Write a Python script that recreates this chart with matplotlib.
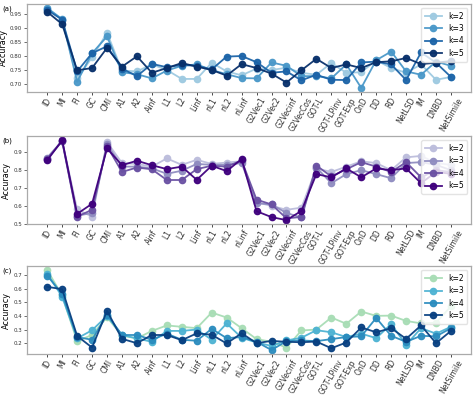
import numpy as np
import matplotlib
matplotlib.use("Agg")
import matplotlib.pyplot as plt

# Methods on the x axis
methods = ["ID", "MI", "FI", "GC", "CMI", "A1", "A2", "Ainf", "L1", "L2", "Linf",
           "nL1", "nL2", "nLinf", "G2Vec1", "G2Vec2", "G2Vecinf", "G2VecCos",
           "GOT-L", "GOT-LPinv", "GOT-Exp", "OnD", "DD", "RD", "NetLSD", "IM",
           "DNBD", "NetSimile"]
k_labels = ["k=2", "k=3", "k=4", "k=5"]

# Panel (a)
acc_a_k2 = [0.970, 0.930, 0.720, 0.795, 0.883, 0.748, 0.745, 0.770, 0.750, 0.718, 0.718, 0.776, 0.745, 0.731,
            0.755, 0.750, 0.758, 0.740, 0.733, 0.775, 0.740, 0.742, 0.785, 0.757, 0.740, 0.770, 0.715, 0.725]
acc_a_k3 = [0.972, 0.932, 0.708, 0.810, 0.870, 0.742, 0.735, 0.720, 0.748, 0.765, 0.770, 0.750, 0.735, 0.721,
            0.720, 0.777, 0.765, 0.728, 0.728, 0.720, 0.770, 0.686, 0.785, 0.816, 0.745, 0.733, 0.780, 0.765]
acc_a_k4 = [0.965, 0.930, 0.745, 0.810, 0.835, 0.755, 0.728, 0.772, 0.760, 0.768, 0.765, 0.752, 0.798, 0.800,
            0.778, 0.740, 0.745, 0.713, 0.733, 0.715, 0.714, 0.777, 0.780, 0.770, 0.714, 0.813, 0.776, 0.725]
acc_a_k5 = [0.958, 0.914, 0.749, 0.757, 0.829, 0.762, 0.799, 0.740, 0.757, 0.775, 0.762, 0.750, 0.730, 0.771,
            0.757, 0.737, 0.705, 0.749, 0.790, 0.757, 0.770, 0.757, 0.778, 0.781, 0.793, 0.771, 0.776, 0.782]

# Panel (b)
acc_b_k2 = [0.860, 0.965, 0.580, 0.540, 0.958, 0.840, 0.835, 0.820, 0.866, 0.830, 0.858, 0.835, 0.843, 0.850,
            0.620, 0.600, 0.578, 0.590, 0.810, 0.790, 0.820, 0.850, 0.840, 0.800, 0.872, 0.880, 0.840, 0.830]
acc_b_k3 = [0.870, 0.965, 0.545, 0.560, 0.945, 0.820, 0.820, 0.810, 0.780, 0.797, 0.835, 0.830, 0.830, 0.840,
            0.615, 0.608, 0.560, 0.535, 0.815, 0.727, 0.778, 0.800, 0.778, 0.755, 0.840, 0.845, 0.830, 0.800]
acc_b_k4 = [0.865, 0.962, 0.540, 0.578, 0.935, 0.790, 0.815, 0.805, 0.745, 0.745, 0.806, 0.825, 0.820, 0.855,
            0.635, 0.608, 0.530, 0.538, 0.826, 0.765, 0.805, 0.845, 0.820, 0.790, 0.845, 0.760, 0.800, 0.790]
acc_b_k5 = [0.855, 0.968, 0.555, 0.612, 0.922, 0.828, 0.853, 0.828, 0.806, 0.820, 0.746, 0.825, 0.795, 0.862,
            0.570, 0.537, 0.520, 0.572, 0.778, 0.760, 0.810, 0.760, 0.810, 0.800, 0.810, 0.727, 0.790, 0.780]

# Panel (c)
acc_c_k2 = [0.735, 0.550, 0.215, 0.260, 0.390, 0.255, 0.235, 0.290, 0.330, 0.320, 0.310, 0.424, 0.388, 0.310,
            0.230, 0.210, 0.168, 0.293, 0.300, 0.388, 0.342, 0.432, 0.400, 0.402, 0.363, 0.345, 0.350, 0.470]
acc_c_k3 = [0.710, 0.540, 0.235, 0.295, 0.400, 0.260, 0.235, 0.210, 0.290, 0.290, 0.300, 0.225, 0.345, 0.240,
            0.205, 0.180, 0.220, 0.240, 0.295, 0.280, 0.245, 0.270, 0.237, 0.340, 0.188, 0.310, 0.270, 0.320]
acc_c_k4 = [0.695, 0.560, 0.245, 0.225, 0.410, 0.260, 0.260, 0.225, 0.270, 0.225, 0.218, 0.305, 0.237, 0.245,
            0.210, 0.150, 0.215, 0.220, 0.215, 0.230, 0.245, 0.250, 0.385, 0.254, 0.210, 0.254, 0.250, 0.310]
acc_c_k5 = [0.613, 0.595, 0.253, 0.168, 0.437, 0.232, 0.200, 0.260, 0.260, 0.222, 0.272, 0.262, 0.198, 0.273,
            0.200, 0.217, 0.210, 0.207, 0.212, 0.163, 0.205, 0.315, 0.280, 0.310, 0.232, 0.330, 0.200, 0.290]

panels = [
    ("(a)", [acc_a_k2, acc_a_k3, acc_a_k4, acc_a_k5], ["#9ecae1", "#4a98c9", "#1c64a8", "#08306b"]),
    ("(b)", [acc_b_k2, acc_b_k3, acc_b_k4, acc_b_k5], ["#bcbddc", "#8f8cc0", "#6a51a3", "#3f007d"]),
    ("(c)", [acc_c_k2, acc_c_k3, acc_c_k4, acc_c_k5], ["#a8ddb5", "#4eb3d3", "#2b8cbe", "#084081"]),
]

fig = plt.figure(figsize=(4.74, 3.96), dpi=100)
x = np.arange(len(methods))
bottoms = [0.768, 0.434, 0.106]

for (tag, series, colors), b in zip(panels, bottoms):
    ax = fig.add_axes([0.057, b, 0.937, 0.222])
    for vals, col, lab in zip(series, colors, k_labels):
        ax.plot(x, vals, "-o", color=col, label=lab, lw=1.3, ms=4.5, alpha=0.95)
    ax.set_xticks(x)
    ax.set_xticklabels(methods, rotation=60, fontsize=5.5, color="#333333")
    ax.tick_params(axis="y", labelsize=4, colors="#333333", length=2, width=0.5, pad=1.5)
    ax.tick_params(axis="x", length=2, width=0.5, pad=1)
    ax.set_ylabel("Accuracy", fontsize=5.8, labelpad=1.5)
    for s in ax.spines.values():
        s.set_color("#aaaaaa")
        s.set_linewidth(0.9)
    ax.legend(loc="upper right", fontsize=5.5, handlelength=2.2, borderpad=0.5,
              labelspacing=0.45, framealpha=0.8, edgecolor="#dddddd")
    fig.text(0.006, b + 0.222 - 0.004, tag, fontsize=5, ha="left", va="top")

fig.savefig("out.png", dpi=100)
